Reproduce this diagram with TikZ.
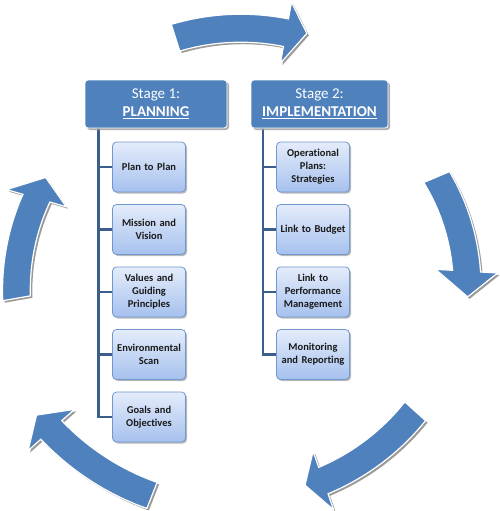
\documentclass[tikz,border=0pt]{standalone}
\usepackage{fontspec}
\setmainfont{Carlito}[Ligatures=NoCommon]
\usetikzlibrary{shadows}
\definecolor{arrowblue}{HTML}{4F81BD}
\definecolor{headblue}{HTML}{4F81BD}
\definecolor{treeblue}{HTML}{3B5E8C}
\definecolor{boxtop}{HTML}{E4ECFA}
\definecolor{boxbot}{HTML}{A6C1EE}
\definecolor{boxline}{HTML}{7197D0}
\definecolor{shadowgray}{HTML}{9A9A9A}
\definecolor{boxtext}{HTML}{1A1A1A}
\newcommand{\cycarrow}[7]{%
\path[#7] plot[domain=#1:#3, samples=30, variable=\t]
 ({245+(#2+(#4-#2)*(\t-#1)/(#3-#1)+14)*cos(\t)},{258-(#2+(#4-#2)*(\t-#1)/(#3-#1)+14)*sin(\t)})
 -- ({245+(#4+31)*cos(#3)},{258-(#4+31)*sin(#3)})
 -- ({245+#6*cos(#5)},{258-#6*sin(#5)})
 -- ({245+(#4-31)*cos(#3)},{258-(#4-31)*sin(#3)})
 -- plot[domain=#3:#1, samples=30, variable=\t]
 ({245+(#2+(#4-#2)*(\t-#1)/(#3-#1)-14)*cos(\t)},{258-(#2+(#4-#2)*(\t-#1)/(#3-#1)-14)*sin(\t)})
 -- cycle;}
\newcommand{\fullarrow}[6]{%
\cycarrow{#1}{#2}{#3}{#4}{#5}{#6}{fill=shadowgray, shift={(2,2)}}%
\cycarrow{#1}{#2}{#3}{#4}{#5}{#6}{fill=arrowblue, draw=white, line width=1.2pt}}
\tikzset{
  header/.style={fill=headblue, draw=white, line width=0.8pt, rounded corners=3pt,
    minimum height=48pt, text=white, align=center, inner sep=0pt,
    font=\fontsize{15}{18}\selectfont,
    drop shadow={shadow xshift=2pt, shadow yshift=-2pt, fill=shadowgray, opacity=0.8}},
  stepbox/.style={rounded corners=4pt, draw=boxline, line width=0.8pt,
    top color=boxtop, bottom color=boxbot, minimum width=73pt, minimum height=50pt,
    text width=70pt, align=center, inner sep=0pt, text=boxtext,
    font=\fontsize{10.5}{13}\selectfont\bfseries,
    drop shadow={shadow xshift=1.5pt, shadow yshift=-1.5pt, fill=shadowgray, opacity=0.7}},
  treeline/.style={draw=treeblue, line width=2.8pt}
}
\begin{document}
\begin{tikzpicture}[x=1pt, y=-1pt]
\useasboundingbox (0,0) rectangle (500,511);
% cycle arrows
\fullarrow{107.5}{231}{79.7}{229}{74.6}{233}
\fullarrow{22.9}{208}{-3.4}{222}{-9.9}{226}
\fullarrow{-42}{229}{-70.6}{236}{-75.2}{235}
\fullarrow{-111.4}{255}{-138.4}{259}{-143}{261}
\fullarrow{190}{232}{164}{217}{158}{215}
% boxes
\node[stepbox] (p1) at (149,167) {Plan to Plan};
\node[stepbox] (p2) at (149,229.5) {Mission and\\Vision};
\node[stepbox] (p3) at (149,292) {Values and\\Guiding\\Principles};
\node[stepbox] (p4) at (149,354.5) {Environmental\\Scan};
\node[stepbox] (p5) at (149,417) {Goals and\\Objectives};
\node[stepbox] (i1) at (313,167) {Operational\\Plans:\\Strategies};
\node[stepbox] (i2) at (313,229.5) {Link to Budget};
\node[stepbox] (i3) at (313,292) {Link to\\Performance\\Management};
\node[stepbox] (i4) at (313,354.5) {Monitoring\\and Reporting};
% tree lines
\coordinate (t1) at (98.5,125);
\coordinate (t2) at (263,125);
\foreach \b in {p1,p2,p3,p4,p5} \draw[treeline] (t1) |- (\b.west);
\foreach \b in {i1,i2,i3,i4} \draw[treeline] (t2) |- (\b.west);
% headers
\node[header, minimum width=142pt] (h1) at (156,104) {Stage 1:\\\textbf{\underline{PLANNING}}};
\node[header, minimum width=137pt] (h2) at (319.5,104) {Stage 2:\\\textbf{\underline{IMPLEMENTATION}}};
\end{tikzpicture}
\end{document}
